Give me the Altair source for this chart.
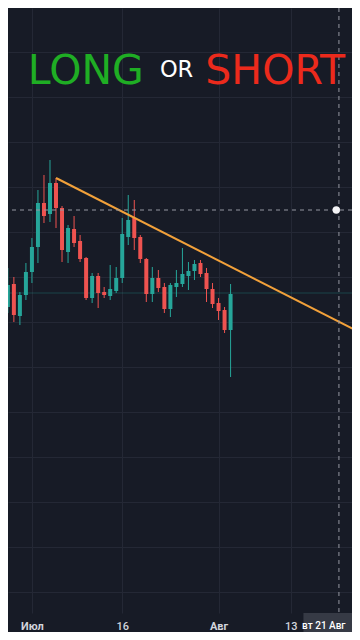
import altair as alt
import pandas as pd

# ---- data (arbitrary price units) ----
dates = pd.date_range("2018-06-27", "2018-08-03", freq="D").strftime("%Y-%m-%d").tolist()
open_ = [3.33, 3.56, 3.24, 3.45, 3.68, 3.93, 4.37, 4.26, 4.57, 4.32, 3.88, 4.11, 3.99,
         3.82, 3.42, 3.64, 3.48, 3.44, 3.49, 3.62, 4.03, 4.22, 4.03, 3.81, 3.46, 3.62,
         3.53, 3.31, 3.53, 3.56, 3.64, 3.69, 3.77, 3.67, 3.51, 3.37, 3.30, 3.10]
close = [3.55, 3.25, 3.45, 3.68, 3.93, 4.37, 4.24, 4.57, 4.32, 3.90, 4.12, 3.97, 3.81,
         3.42, 3.64, 3.47, 3.45, 3.51, 3.62, 4.06, 4.20, 4.02, 3.81, 3.46, 3.62, 3.52,
         3.31, 3.55, 3.57, 3.66, 3.69, 3.76, 3.66, 3.51, 3.36, 3.29, 3.10, 3.46]
high = [3.72, 3.63, 3.48, 3.77, 4.02, 4.50, 4.65, 4.80, 4.62, 4.34, 4.15, 4.24, 4.05,
        3.83, 3.67, 3.67, 3.53, 3.75, 3.73, 4.22, 4.45, 4.40, 4.05, 3.82, 3.73, 3.70,
        3.57, 3.57, 3.70, 3.92, 3.78, 3.80, 3.80, 3.72, 3.57, 3.42, 3.33, 3.56]
low = [3.27, 3.18, 3.15, 3.40, 3.57, 3.77, 4.17, 4.18, 4.12, 3.78, 3.77, 3.93, 3.78,
       3.40, 3.37, 3.32, 3.42, 3.40, 3.47, 3.57, 3.95, 3.90, 3.77, 3.38, 3.38, 3.48,
       3.27, 3.23, 3.43, 3.53, 3.50, 3.60, 3.63, 3.38, 3.32, 3.20, 3.07, 2.63]

tick_dates = ["2018-07-01", "2018-07-16", "2018-08-01", "2018-08-13"]
tick_labels = ["Июл", "16", "Авг", "13"]
bold_labels = ["Июл", "Авг"]

trend_dates = ["2018-07-05", "2018-08-26"]
trend_price = [4.62, 3.03]

cross_date = "2018-08-21"
cross_label = "вт 21 Авг"
cross_price = 4.30
last_price = 3.47

headline = ["LONG", "OR", "SHORT"]

# ---- derived tables ----
start = pd.Timestamp(dates[0])


def day(s):
    return (pd.Timestamp(s) - start).days


df = pd.DataFrame({"date": dates, "open": open_, "close": close, "high": high, "low": low})
df["d"] = [day(s) for s in df["date"]]
df["dir"] = ["up" if c >= o else "down" for o, c in zip(open_, close)]

tick_days = [day(s) for s in tick_dates]
bold_days = [tick_days[tick_labels.index(b)] for b in bold_labels]
trend_df = pd.DataFrame({"d": [day(s) for s in trend_dates], "p": trend_price})
cross_d = day(cross_date)

# ---- styles ----
BG = "#171b26"
GRID = "#242835"
UP = "#26a69a"
DOWN = "#ef5350"

xscale = alt.Scale(domain=[0.855, 56.34], nice=False, zero=False)
yscale = alt.Scale(domain=[0.27, 6.32], nice=False, zero=False)

label_expr = (
    "[" + ",".join(f"'{t}'" for t in tick_labels) + "][indexof(["
    + ",".join(str(v) for v in tick_days) + "], datum.value)]"
)
bold_test = " || ".join(f"datum.value == {v}" for v in bold_days)

xaxis = alt.Axis(
    values=tick_days, labelExpr=label_expr, title=None, ticks=False, tickSize=0,
    domain=False, grid=True, gridColor=GRID, gridWidth=1,
    labelColor="#d1d4dc", labelFont="Roboto", labelFontSize=11,
    labelPadding=13, labelBaseline="middle", labelFlush=False, labelOverlap=False,
    labelFontWeight={"condition": {"test": bold_test, "value": "bold"}, "value": 500},
)
grid_prices = [0.48, 0.93, 1.38, 1.83, 2.28, 2.73, 3.18, 3.63, 4.08, 4.53, 4.98, 5.43, 5.88]
yaxis = alt.Axis(values=grid_prices, labels=False, ticks=False, domain=False,
                 grid=True, gridColor=GRID, gridWidth=1, title=None)


def X(f="d"):
    return alt.X(f"{f}:Q", scale=xscale, axis=xaxis)


def Y(f="p"):
    return alt.Y(f"{f}:Q", scale=yscale, axis=yaxis)


color = alt.Color("dir:N", scale=alt.Scale(domain=["up", "down"], range=[UP, DOWN]), legend=None)

base = alt.Chart(df)

price_line = alt.Chart(pd.DataFrame({"p": [last_price]})).mark_rule(
    color=UP, opacity=0.3, strokeWidth=1).encode(y=Y())

wicks = base.mark_rule(strokeWidth=1).encode(x=X(), y=Y("low"), y2=alt.Y2("high"), color=color)
bodies = base.mark_bar(size=4).encode(x=X(), y=Y("open"), y2=alt.Y2("close"), color=color)

trend = alt.Chart(trend_df).mark_line(color="#f2a13a", strokeWidth=2, clip=True).encode(
    x=X(), y=Y())

cross_v = alt.Chart(pd.DataFrame({"d": [cross_d]})).mark_rule(
    color="#9598a1", strokeDash=[4, 4], strokeWidth=1).encode(x=X())
cross_h = alt.Chart(pd.DataFrame({"p": [cross_price]})).mark_rule(
    color="#9598a1", strokeDash=[4, 4], strokeWidth=1).encode(y=Y())
dot = alt.Chart(pd.DataFrame({"d": [cross_d - 0.44], "p": [cross_price]})).mark_circle(
    color="#f4f4f6", opacity=1, size=55).encode(x=X(), y=Y())

t_long = alt.Chart(pd.DataFrame({"d": [12.95], "p": [5.56], "w": [headline[0]]})).mark_text(
    font="DejaVu Sans", fontSize=41, color="#1fae24", align="center", baseline="alphabetic"
).encode(x=X(), y=Y(), text="w:N")
t_or = alt.Chart(pd.DataFrame({"d": [28.03], "p": [5.63], "w": [headline[1]]})).mark_text(
    font="DejaVu Sans", fontSize=22.5, color="#ffffff", align="center", baseline="alphabetic"
).encode(x=X(), y=Y(), text="w:N")
t_short = alt.Chart(pd.DataFrame({"d": [44.4], "p": [5.56], "w": [headline[2]]})).mark_text(
    font="DejaVu Sans", fontSize=41, color="#ec2a1c", align="center", baseline="alphabetic"
).encode(x=X(), y=Y(), text="w:N")

box = alt.Chart(pd.DataFrame({"d": [cross_d - 5.9], "d2": [cross_d + 5.9],
                              "p": [0.27], "p2": [0.0]})).mark_rect(
    color="#363a45", clip=False).encode(x=X(), x2="d2:Q", y=Y(), y2="p2:Q")
box_text = alt.Chart(pd.DataFrame({"d": [56.1], "p": [0.14], "w": [cross_label]})).mark_text(
    font="Roboto", fontSize=10, fontWeight=500, color="#ffffff", align="right",
    baseline="middle", clip=False
).encode(x=X(), y=Y(), text="w:N")

chart = alt.layer(
    price_line, wicks, bodies, trend, cross_v, cross_h, dot,
    t_long, t_or, t_short, box, box_text
).properties(
    width=344, height=605,
    padding={"left": 0, "top": 0, "right": 0, "bottom": 19},
    autosize=alt.AutoSizeParams(type="none"),
    background=BG,
).configure_view(strokeWidth=0)

chart.save("out.html", embed_options={"renderer": "svg", "actions": False})
